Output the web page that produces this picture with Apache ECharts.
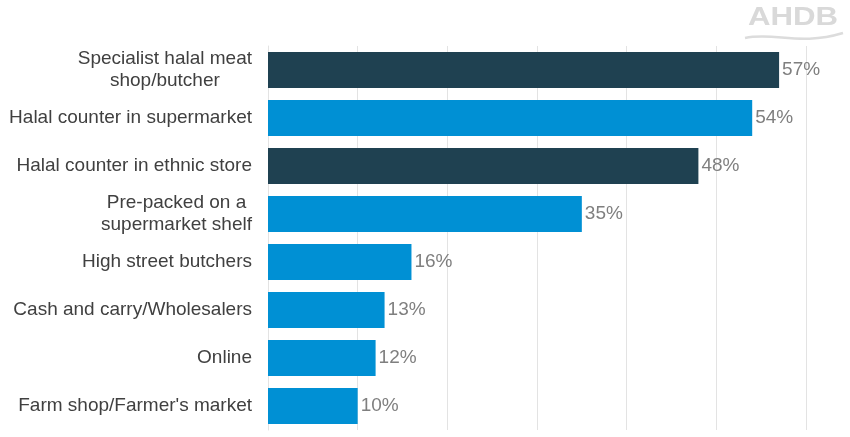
<!DOCTYPE html>
<html>
<head>
<meta charset="utf-8">
<script src="https://cdn.jsdelivr.net/npm/echarts@6/dist/echarts.min.js"></script>
<style>
  html, body { margin: 0; padding: 0; background: #fff; }
  #chart { width: 850px; height: 437px; }
</style>
</head>
<body>
<div id="chart"></div>
<script>
const categories = [
  "Specialist halal meat\nshop/butcher",
  "Halal counter in supermarket",
  "Halal counter in ethnic store",
  "Pre-packed on a\nsupermarket shelf",
  "High street butchers",
  "Cash and carry/Wholesalers",
  "Online",
  "Farm shop/Farmer's market"
];
const shares = [57, 54, 48, 35, 16, 13, 12, 10];
// categories drawn in the dark colour
const highlighted = [
  "Specialist halal meat\nshop/butcher",
  "Halal counter in ethnic store"
];

const darkColor = "#1f4151";
const blueColor = "#0090d4";
const font = "Liberation Sans, Arial, sans-serif";

const chart = echarts.init(document.getElementById("chart"));

chart.setOption({
  backgroundColor: "#fff",
  animation: false,
  grid: { left: 268, right: 44, top: 46, bottom: 7 },
  xAxis: {
    type: "value",
    min: 0,
    max: 60,
    interval: 10,
    axisLabel: { show: false },
    axisTick: { show: false },
    axisLine: { show: false },
    splitLine: { lineStyle: { color: "#e3e3e3", width: 1 } }
  },
  yAxis: {
    type: "category",
    data: categories,
    inverse: true,
    axisTick: { show: false },
    axisLine: { lineStyle: { color: "#e3e3e3" } },
    axisLabel: {
      margin: 16,
      fontFamily: font,
      fontSize: 19,
      color: "#404040",
      lineHeight: 22,
      formatter: (v) => v.split("\n").map((s) => "{c|" + s + "}").join("\n"),
      rich: {
        c: {
          fontFamily: font,
          fontSize: 19,
          color: "#404040",
          lineHeight: 22,
          align: "center"
        }
      }
    }
  },
  series: [{
    type: "bar",
    data: shares,
    barWidth: 36,
    itemStyle: {
      color: (p) => highlighted.includes(categories[p.dataIndex]) ? darkColor : blueColor
    },
    label: {
      show: true,
      position: "right",
      distance: 3,
      formatter: "{c}%",
      fontFamily: font,
      fontSize: 19,
      color: "#7f7f7f"
    }
  }],
  graphic: [{
    type: "text",
    x: 748,
    y: 5,
    scaleX: 1.2,
    style: {
      text: "AHDB",
      font: "bold 26px " + font,
      fill: "#d9d9d9"
    }
  }, {
    type: "bezierCurve",
    shape: { x1: 745, y1: 38, cpx1: 775, cpy1: 32, cpx2: 800, cpy2: 46, x2: 843, y2: 33 },
    style: { fill: null, stroke: "#dcdcdc", lineWidth: 2.5 }
  }]
});
</script>
</body>
</html>
